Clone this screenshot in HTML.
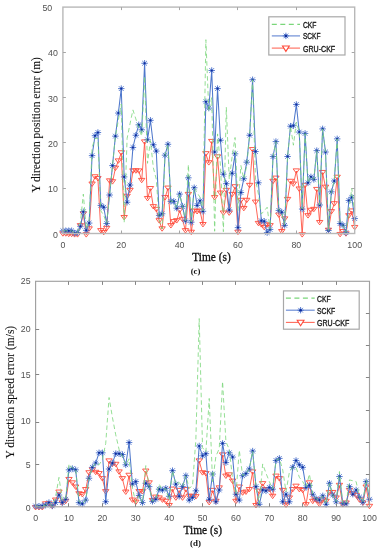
<!DOCTYPE html><html><head><meta charset="utf-8"><title>Y direction error plots</title><style>html,body{margin:0;padding:0;background:#fff}svg{display:block}</style></head><body>
<svg width="381" height="550" viewBox="0 0 381 550">
<rect width="381" height="550" fill="#fff"/>
<filter id="soft" x="0" y="0" width="100%" height="100%" filterUnits="userSpaceOnUse"><feGaussianBlur stdDeviation="0.3"/></filter><g filter="url(#soft)">
<clipPath id="c1"><rect x="58.9" y="7.1" width="299.8" height="231.4"/></clipPath>
<g clip-path="url(#c1)">
<polyline fill="none" stroke="#ff4a3a" stroke-width="0.85" points="62.9,233.99 65.82,233.99 68.74,234.45 71.65,234.45 74.57,234.9 77.49,234.9 80.41,225.84 83.33,214.07 86.24,234.9 89.16,229.01 92.08,184.19 95,176.94 97.92,178.75 100.83,230.82 103.75,232.64 106.67,228.56 109.59,181.02 112.51,181.92 115.42,168.34 118.34,161.09 121.26,152.94 124.18,217.69 127.1,196.41 130.01,190.53 132.93,171.06 135.85,171.06 138.77,171.06 141.69,180.56 144.6,142.08 147.52,198.68 150.44,188.71 153.36,206.83 156.28,209.54 159.19,220.86 162.11,229.01 165.03,197.77 167.95,188.26 170.87,225.84 173.78,221.77 176.7,220.86 179.62,210.45 182.54,219.5 185.46,230.82 188.37,194.6 191.29,232.41 194.21,211.13 197.13,211.81 200.05,211.13 202.96,224.71 205.88,153.85 208.8,162.9 211.72,141.62 214.64,197.77 217.55,157.02 220.47,193.24 223.39,213.17 226.31,190.53 229.23,213.17 232.14,194.6 235.06,186.9 237.98,232.41 240.9,200.49 243.82,208.64 246.73,200.49 249.65,185.54 252.57,149.77 255.49,202.3 258.41,223.58 261.32,224.94 264.24,227.66 267.16,224.94 270.08,225.84 273,181.47 275.91,178.3 278.83,215.2 281.75,231.73 284.67,219.05 287.59,199.58 290.5,181.47 293.42,184.19 296.34,171.06 299.26,189.17 302.18,234.9 305.09,185.54 308.01,215.88 310.93,210.45 313.85,209.54 316.77,189.62 319.68,222.67 322.6,172.64 325.52,187.36 328.44,230.37 331.36,211.81 334.27,203.88 337.19,177.39 340.11,234.67 343.03,231.73 345.95,233.99 348.86,215.88 351.78,211.13 354.7,227.66"/>
<path fill="none" stroke="#ff4a3a" stroke-width="0.9" d="M59.7 231.79h6.4l-3.2 4.4zM62.62 231.79h6.4l-3.2 4.4zM65.54 232.25h6.4l-3.2 4.4zM68.45 232.25h6.4l-3.2 4.4zM71.37 232.7h6.4l-3.2 4.4zM74.29 232.7h6.4l-3.2 4.4zM77.21 223.64h6.4l-3.2 4.4zM80.13 211.87h6.4l-3.2 4.4zM83.04 232.7h6.4l-3.2 4.4zM85.96 226.81h6.4l-3.2 4.4zM88.88 181.99h6.4l-3.2 4.4zM91.8 174.74h6.4l-3.2 4.4zM94.72 176.55h6.4l-3.2 4.4zM97.63 228.62h6.4l-3.2 4.4zM100.55 230.44h6.4l-3.2 4.4zM103.47 226.36h6.4l-3.2 4.4zM106.39 178.82h6.4l-3.2 4.4zM109.31 179.72h6.4l-3.2 4.4zM112.22 166.14h6.4l-3.2 4.4zM115.14 158.89h6.4l-3.2 4.4zM118.06 150.74h6.4l-3.2 4.4zM120.98 215.49h6.4l-3.2 4.4zM123.9 194.21h6.4l-3.2 4.4zM126.81 188.33h6.4l-3.2 4.4zM129.73 168.86h6.4l-3.2 4.4zM132.65 168.86h6.4l-3.2 4.4zM135.57 168.86h6.4l-3.2 4.4zM138.49 178.36h6.4l-3.2 4.4zM141.4 139.88h6.4l-3.2 4.4zM144.32 196.48h6.4l-3.2 4.4zM147.24 186.51h6.4l-3.2 4.4zM150.16 204.63h6.4l-3.2 4.4zM153.08 207.34h6.4l-3.2 4.4zM155.99 218.66h6.4l-3.2 4.4zM158.91 226.81h6.4l-3.2 4.4zM161.83 195.57h6.4l-3.2 4.4zM164.75 186.06h6.4l-3.2 4.4zM167.67 223.64h6.4l-3.2 4.4zM170.58 219.57h6.4l-3.2 4.4zM173.5 218.66h6.4l-3.2 4.4zM176.42 208.25h6.4l-3.2 4.4zM179.34 217.3h6.4l-3.2 4.4zM182.26 228.62h6.4l-3.2 4.4zM185.17 192.4h6.4l-3.2 4.4zM188.09 230.21h6.4l-3.2 4.4zM191.01 208.93h6.4l-3.2 4.4zM193.93 209.61h6.4l-3.2 4.4zM196.85 208.93h6.4l-3.2 4.4zM199.76 222.51h6.4l-3.2 4.4zM202.68 151.65h6.4l-3.2 4.4zM205.6 160.7h6.4l-3.2 4.4zM208.52 139.42h6.4l-3.2 4.4zM211.44 195.57h6.4l-3.2 4.4zM214.35 154.82h6.4l-3.2 4.4zM217.27 191.04h6.4l-3.2 4.4zM220.19 210.97h6.4l-3.2 4.4zM223.11 188.33h6.4l-3.2 4.4zM226.03 210.97h6.4l-3.2 4.4zM228.94 192.4h6.4l-3.2 4.4zM231.86 184.7h6.4l-3.2 4.4zM234.78 230.21h6.4l-3.2 4.4zM237.7 198.29h6.4l-3.2 4.4zM240.62 206.44h6.4l-3.2 4.4zM243.53 198.29h6.4l-3.2 4.4zM246.45 183.34h6.4l-3.2 4.4zM249.37 147.57h6.4l-3.2 4.4zM252.29 200.1h6.4l-3.2 4.4zM255.21 221.38h6.4l-3.2 4.4zM258.12 222.74h6.4l-3.2 4.4zM261.04 225.46h6.4l-3.2 4.4zM263.96 222.74h6.4l-3.2 4.4zM266.88 223.64h6.4l-3.2 4.4zM269.8 179.27h6.4l-3.2 4.4zM272.71 176.1h6.4l-3.2 4.4zM275.63 213h6.4l-3.2 4.4zM278.55 229.53h6.4l-3.2 4.4zM281.47 216.85h6.4l-3.2 4.4zM284.39 197.38h6.4l-3.2 4.4zM287.3 179.27h6.4l-3.2 4.4zM290.22 181.99h6.4l-3.2 4.4zM293.14 168.86h6.4l-3.2 4.4zM296.06 186.97h6.4l-3.2 4.4zM298.98 232.7h6.4l-3.2 4.4zM301.89 183.34h6.4l-3.2 4.4zM304.81 213.68h6.4l-3.2 4.4zM307.73 208.25h6.4l-3.2 4.4zM310.65 207.34h6.4l-3.2 4.4zM313.57 187.42h6.4l-3.2 4.4zM316.48 220.47h6.4l-3.2 4.4zM319.4 170.44h6.4l-3.2 4.4zM322.32 185.16h6.4l-3.2 4.4zM325.24 228.17h6.4l-3.2 4.4zM328.16 209.61h6.4l-3.2 4.4zM331.07 201.68h6.4l-3.2 4.4zM333.99 175.19h6.4l-3.2 4.4zM336.91 232.47h6.4l-3.2 4.4zM339.83 229.53h6.4l-3.2 4.4zM342.75 231.79h6.4l-3.2 4.4zM345.66 213.68h6.4l-3.2 4.4zM348.58 208.93h6.4l-3.2 4.4zM351.5 225.46h6.4l-3.2 4.4z"/>
<polyline fill="none" stroke="#4f78cc" stroke-width="1.05" points="62.9,230.78 65.82,230.78 68.74,230.78 71.65,230.78 74.57,233.05 77.49,232.59 80.41,226.26 83.33,211.77 86.24,230.33 89.16,223.09 92.08,155.62 95,135.7 97.92,132.53 100.83,205.43 103.75,207.24 106.67,223.54 109.59,195.01 112.51,165.58 115.42,136.15 118.34,113.06 121.26,88.6 124.18,176.9 127.1,202.26 130.01,185.05 132.93,147.47 135.85,135.24 138.77,124.83 141.69,129.81 144.6,63.25 147.52,139.77 150.44,120.3 153.36,144.75 156.28,151.09 159.19,215.39 162.11,213.8 165.03,155.17 167.95,144.3 170.87,201.35 173.78,201.35 176.7,208.14 179.62,194.11 182.54,206.33 185.46,220.82 188.37,177.81 191.29,222.18 194.21,187.77 197.13,205.43 200.05,200.9 202.96,211.31 205.88,101.74 208.8,108.07 211.72,70.49 214.64,152 217.55,88.6 220.47,140.22 223.39,174.18 226.31,183.69 229.23,209.95 232.14,173.28 235.06,153.81 237.98,227.61 240.9,192.52 243.82,178.71 246.73,162.18 249.65,135.24 252.57,79.77 255.49,151.54 258.41,182.79 261.32,220.82 264.24,221.27 267.16,232.59 270.08,229.42 273,156.52 275.91,141.58 278.83,210.41 281.75,212.22 284.67,225.35 287.59,156.52 290.5,126.19 293.42,125.73 296.34,104.45 299.26,132.07 302.18,209.05 305.09,133.43 308.01,182.79 310.93,176.9 313.85,179.39 316.77,150.64 319.68,204.97 322.6,128.9 325.52,152 328.44,230.56 331.36,191.84 334.27,180.98 337.19,138.86 340.11,223.54 343.03,225.35 345.95,232.59 348.86,200.45 351.78,197.28 354.7,218.56"/>
<path fill="none" stroke="#4a70cc" stroke-width="0.9" d="M59.65 230.78h6.5M62.9 227.53v6.5M60.56 228.44l4.68 4.68M60.56 233.12l4.68 -4.68M62.57 230.78h6.5M65.82 227.53v6.5M63.48 228.44l4.68 4.68M63.48 233.12l4.68 -4.68M65.49 230.78h6.5M68.74 227.53v6.5M66.4 228.44l4.68 4.68M66.4 233.12l4.68 -4.68M68.4 230.78h6.5M71.65 227.53v6.5M69.31 228.44l4.68 4.68M69.31 233.12l4.68 -4.68M71.32 233.05h6.5M74.57 229.8v6.5M72.23 230.71l4.68 4.68M72.23 235.39l4.68 -4.68M74.24 232.59h6.5M77.49 229.34v6.5M75.15 230.25l4.68 4.68M75.15 234.93l4.68 -4.68M77.16 226.26h6.5M80.41 223.01v6.5M78.07 223.92l4.68 4.68M78.07 228.6l4.68 -4.68M80.08 211.77h6.5M83.33 208.52v6.5M80.99 209.43l4.68 4.68M80.99 214.11l4.68 -4.68M82.99 230.33h6.5M86.24 227.08v6.5M83.9 227.99l4.68 4.68M83.9 232.67l4.68 -4.68M85.91 223.09h6.5M89.16 219.84v6.5M86.82 220.75l4.68 4.68M86.82 225.43l4.68 -4.68M88.83 155.62h6.5M92.08 152.37v6.5M89.74 153.28l4.68 4.68M89.74 157.96l4.68 -4.68M91.75 135.7h6.5M95 132.45v6.5M92.66 133.36l4.68 4.68M92.66 138.04l4.68 -4.68M94.67 132.53h6.5M97.92 129.28v6.5M95.58 130.19l4.68 4.68M95.58 134.87l4.68 -4.68M97.58 205.43h6.5M100.83 202.18v6.5M98.49 203.09l4.68 4.68M98.49 207.77l4.68 -4.68M100.5 207.24h6.5M103.75 203.99v6.5M101.41 204.9l4.68 4.68M101.41 209.58l4.68 -4.68M103.42 223.54h6.5M106.67 220.29v6.5M104.33 221.2l4.68 4.68M104.33 225.88l4.68 -4.68M106.34 195.01h6.5M109.59 191.76v6.5M107.25 192.67l4.68 4.68M107.25 197.35l4.68 -4.68M109.26 165.58h6.5M112.51 162.33v6.5M110.17 163.24l4.68 4.68M110.17 167.92l4.68 -4.68M112.17 136.15h6.5M115.42 132.9v6.5M113.08 133.81l4.68 4.68M113.08 138.49l4.68 -4.68M115.09 113.06h6.5M118.34 109.81v6.5M116 110.72l4.68 4.68M116 115.4l4.68 -4.68M118.01 88.6h6.5M121.26 85.35v6.5M118.92 86.26l4.68 4.68M118.92 90.94l4.68 -4.68M120.93 176.9h6.5M124.18 173.65v6.5M121.84 174.56l4.68 4.68M121.84 179.24l4.68 -4.68M123.85 202.26h6.5M127.1 199.01v6.5M124.76 199.92l4.68 4.68M124.76 204.6l4.68 -4.68M126.76 185.05h6.5M130.01 181.8v6.5M127.67 182.71l4.68 4.68M127.67 187.39l4.68 -4.68M129.68 147.47h6.5M132.93 144.22v6.5M130.59 145.13l4.68 4.68M130.59 149.81l4.68 -4.68M132.6 135.24h6.5M135.85 131.99v6.5M133.51 132.9l4.68 4.68M133.51 137.58l4.68 -4.68M135.52 124.83h6.5M138.77 121.58v6.5M136.43 122.49l4.68 4.68M136.43 127.17l4.68 -4.68M138.44 129.81h6.5M141.69 126.56v6.5M139.35 127.47l4.68 4.68M139.35 132.15l4.68 -4.68M141.35 63.25h6.5M144.6 60v6.5M142.26 60.91l4.68 4.68M142.26 65.59l4.68 -4.68M144.27 139.77h6.5M147.52 136.52v6.5M145.18 137.43l4.68 4.68M145.18 142.11l4.68 -4.68M147.19 120.3h6.5M150.44 117.05v6.5M148.1 117.96l4.68 4.68M148.1 122.64l4.68 -4.68M150.11 144.75h6.5M153.36 141.5v6.5M151.02 142.41l4.68 4.68M151.02 147.09l4.68 -4.68M153.03 151.09h6.5M156.28 147.84v6.5M153.94 148.75l4.68 4.68M153.94 153.43l4.68 -4.68M155.94 215.39h6.5M159.19 212.14v6.5M156.85 213.05l4.68 4.68M156.85 217.73l4.68 -4.68M158.86 213.8h6.5M162.11 210.55v6.5M159.77 211.46l4.68 4.68M159.77 216.14l4.68 -4.68M161.78 155.17h6.5M165.03 151.92v6.5M162.69 152.83l4.68 4.68M162.69 157.51l4.68 -4.68M164.7 144.3h6.5M167.95 141.05v6.5M165.61 141.96l4.68 4.68M165.61 146.64l4.68 -4.68M167.62 201.35h6.5M170.87 198.1v6.5M168.53 199.01l4.68 4.68M168.53 203.69l4.68 -4.68M170.53 201.35h6.5M173.78 198.1v6.5M171.44 199.01l4.68 4.68M171.44 203.69l4.68 -4.68M173.45 208.14h6.5M176.7 204.89v6.5M174.36 205.8l4.68 4.68M174.36 210.48l4.68 -4.68M176.37 194.11h6.5M179.62 190.86v6.5M177.28 191.77l4.68 4.68M177.28 196.45l4.68 -4.68M179.29 206.33h6.5M182.54 203.08v6.5M180.2 203.99l4.68 4.68M180.2 208.67l4.68 -4.68M182.21 220.82h6.5M185.46 217.57v6.5M183.12 218.48l4.68 4.68M183.12 223.16l4.68 -4.68M185.12 177.81h6.5M188.37 174.56v6.5M186.03 175.47l4.68 4.68M186.03 180.15l4.68 -4.68M188.04 222.18h6.5M191.29 218.93v6.5M188.95 219.84l4.68 4.68M188.95 224.52l4.68 -4.68M190.96 187.77h6.5M194.21 184.52v6.5M191.87 185.43l4.68 4.68M191.87 190.11l4.68 -4.68M193.88 205.43h6.5M197.13 202.18v6.5M194.79 203.09l4.68 4.68M194.79 207.77l4.68 -4.68M196.8 200.9h6.5M200.05 197.65v6.5M197.71 198.56l4.68 4.68M197.71 203.24l4.68 -4.68M199.71 211.31h6.5M202.96 208.06v6.5M200.62 208.97l4.68 4.68M200.62 213.65l4.68 -4.68M202.63 101.74h6.5M205.88 98.49v6.5M203.54 99.4l4.68 4.68M203.54 104.08l4.68 -4.68M205.55 108.07h6.5M208.8 104.82v6.5M206.46 105.73l4.68 4.68M206.46 110.41l4.68 -4.68M208.47 70.49h6.5M211.72 67.24v6.5M209.38 68.15l4.68 4.68M209.38 72.83l4.68 -4.68M211.39 152h6.5M214.64 148.75v6.5M212.3 149.66l4.68 4.68M212.3 154.34l4.68 -4.68M214.3 88.6h6.5M217.55 85.35v6.5M215.21 86.26l4.68 4.68M215.21 90.94l4.68 -4.68M217.22 140.22h6.5M220.47 136.97v6.5M218.13 137.88l4.68 4.68M218.13 142.56l4.68 -4.68M220.14 174.18h6.5M223.39 170.93v6.5M221.05 171.84l4.68 4.68M221.05 176.52l4.68 -4.68M223.06 183.69h6.5M226.31 180.44v6.5M223.97 181.35l4.68 4.68M223.97 186.03l4.68 -4.68M225.98 209.95h6.5M229.23 206.7v6.5M226.89 207.61l4.68 4.68M226.89 212.29l4.68 -4.68M228.89 173.28h6.5M232.14 170.03v6.5M229.8 170.94l4.68 4.68M229.8 175.62l4.68 -4.68M231.81 153.81h6.5M235.06 150.56v6.5M232.72 151.47l4.68 4.68M232.72 156.15l4.68 -4.68M234.73 227.61h6.5M237.98 224.36v6.5M235.64 225.27l4.68 4.68M235.64 229.95l4.68 -4.68M237.65 192.52h6.5M240.9 189.27v6.5M238.56 190.18l4.68 4.68M238.56 194.86l4.68 -4.68M240.57 178.71h6.5M243.82 175.46v6.5M241.48 176.37l4.68 4.68M241.48 181.05l4.68 -4.68M243.48 162.18h6.5M246.73 158.93v6.5M244.39 159.84l4.68 4.68M244.39 164.52l4.68 -4.68M246.4 135.24h6.5M249.65 131.99v6.5M247.31 132.9l4.68 4.68M247.31 137.58l4.68 -4.68M249.32 79.77h6.5M252.57 76.52v6.5M250.23 77.43l4.68 4.68M250.23 82.11l4.68 -4.68M252.24 151.54h6.5M255.49 148.29v6.5M253.15 149.2l4.68 4.68M253.15 153.88l4.68 -4.68M255.16 182.79h6.5M258.41 179.54v6.5M256.07 180.45l4.68 4.68M256.07 185.13l4.68 -4.68M258.07 220.82h6.5M261.32 217.57v6.5M258.98 218.48l4.68 4.68M258.98 223.16l4.68 -4.68M260.99 221.27h6.5M264.24 218.02v6.5M261.9 218.93l4.68 4.68M261.9 223.61l4.68 -4.68M263.91 232.59h6.5M267.16 229.34v6.5M264.82 230.25l4.68 4.68M264.82 234.93l4.68 -4.68M266.83 229.42h6.5M270.08 226.17v6.5M267.74 227.08l4.68 4.68M267.74 231.76l4.68 -4.68M269.75 156.52h6.5M273 153.27v6.5M270.66 154.18l4.68 4.68M270.66 158.86l4.68 -4.68M272.66 141.58h6.5M275.91 138.33v6.5M273.57 139.24l4.68 4.68M273.57 143.92l4.68 -4.68M275.58 210.41h6.5M278.83 207.16v6.5M276.49 208.07l4.68 4.68M276.49 212.75l4.68 -4.68M278.5 212.22h6.5M281.75 208.97v6.5M279.41 209.88l4.68 4.68M279.41 214.56l4.68 -4.68M281.42 225.35h6.5M284.67 222.1v6.5M282.33 223.01l4.68 4.68M282.33 227.69l4.68 -4.68M284.34 156.52h6.5M287.59 153.27v6.5M285.25 154.18l4.68 4.68M285.25 158.86l4.68 -4.68M287.25 126.19h6.5M290.5 122.94v6.5M288.16 123.85l4.68 4.68M288.16 128.53l4.68 -4.68M290.17 125.73h6.5M293.42 122.48v6.5M291.08 123.39l4.68 4.68M291.08 128.07l4.68 -4.68M293.09 104.45h6.5M296.34 101.2v6.5M294 102.11l4.68 4.68M294 106.79l4.68 -4.68M296.01 132.07h6.5M299.26 128.82v6.5M296.92 129.73l4.68 4.68M296.92 134.41l4.68 -4.68M298.93 209.05h6.5M302.18 205.8v6.5M299.84 206.71l4.68 4.68M299.84 211.39l4.68 -4.68M301.84 133.43h6.5M305.09 130.18v6.5M302.75 131.09l4.68 4.68M302.75 135.77l4.68 -4.68M304.76 182.79h6.5M308.01 179.54v6.5M305.67 180.45l4.68 4.68M305.67 185.13l4.68 -4.68M307.68 176.9h6.5M310.93 173.65v6.5M308.59 174.56l4.68 4.68M308.59 179.24l4.68 -4.68M310.6 179.39h6.5M313.85 176.14v6.5M311.51 177.05l4.68 4.68M311.51 181.73l4.68 -4.68M313.52 150.64h6.5M316.77 147.39v6.5M314.43 148.3l4.68 4.68M314.43 152.98l4.68 -4.68M316.43 204.97h6.5M319.68 201.72v6.5M317.34 202.63l4.68 4.68M317.34 207.31l4.68 -4.68M319.35 128.9h6.5M322.6 125.65v6.5M320.26 126.56l4.68 4.68M320.26 131.24l4.68 -4.68M322.27 152h6.5M325.52 148.75v6.5M323.18 149.66l4.68 4.68M323.18 154.34l4.68 -4.68M325.19 230.56h6.5M328.44 227.31v6.5M326.1 228.22l4.68 4.68M326.1 232.9l4.68 -4.68M328.11 191.84h6.5M331.36 188.59v6.5M329.02 189.5l4.68 4.68M329.02 194.18l4.68 -4.68M331.02 180.98h6.5M334.27 177.73v6.5M331.93 178.64l4.68 4.68M331.93 183.32l4.68 -4.68M333.94 138.86h6.5M337.19 135.61v6.5M334.85 136.52l4.68 4.68M334.85 141.2l4.68 -4.68M336.86 223.54h6.5M340.11 220.29v6.5M337.77 221.2l4.68 4.68M337.77 225.88l4.68 -4.68M339.78 225.35h6.5M343.03 222.1v6.5M340.69 223.01l4.68 4.68M340.69 227.69l4.68 -4.68M342.7 232.59h6.5M345.95 229.34v6.5M343.61 230.25l4.68 4.68M343.61 234.93l4.68 -4.68M345.61 200.45h6.5M348.86 197.2v6.5M346.52 198.11l4.68 4.68M346.52 202.79l4.68 -4.68M348.53 197.28h6.5M351.78 194.03v6.5M349.44 194.94l4.68 4.68M349.44 199.62l4.68 -4.68M351.45 218.56h6.5M354.7 215.31v6.5M352.36 216.22l4.68 4.68M352.36 220.9l4.68 -4.68"/>
<path fill="#0c2c9c" d="M61.85 230.78a1.05 1.05 0 1 0 2.1 0a1.05 1.05 0 1 0 -2.1 0M64.77 230.78a1.05 1.05 0 1 0 2.1 0a1.05 1.05 0 1 0 -2.1 0M67.69 230.78a1.05 1.05 0 1 0 2.1 0a1.05 1.05 0 1 0 -2.1 0M70.6 230.78a1.05 1.05 0 1 0 2.1 0a1.05 1.05 0 1 0 -2.1 0M73.52 233.05a1.05 1.05 0 1 0 2.1 0a1.05 1.05 0 1 0 -2.1 0M76.44 232.59a1.05 1.05 0 1 0 2.1 0a1.05 1.05 0 1 0 -2.1 0M79.36 226.26a1.05 1.05 0 1 0 2.1 0a1.05 1.05 0 1 0 -2.1 0M82.28 211.77a1.05 1.05 0 1 0 2.1 0a1.05 1.05 0 1 0 -2.1 0M85.19 230.33a1.05 1.05 0 1 0 2.1 0a1.05 1.05 0 1 0 -2.1 0M88.11 223.09a1.05 1.05 0 1 0 2.1 0a1.05 1.05 0 1 0 -2.1 0M91.03 155.62a1.05 1.05 0 1 0 2.1 0a1.05 1.05 0 1 0 -2.1 0M93.95 135.7a1.05 1.05 0 1 0 2.1 0a1.05 1.05 0 1 0 -2.1 0M96.87 132.53a1.05 1.05 0 1 0 2.1 0a1.05 1.05 0 1 0 -2.1 0M99.78 205.43a1.05 1.05 0 1 0 2.1 0a1.05 1.05 0 1 0 -2.1 0M102.7 207.24a1.05 1.05 0 1 0 2.1 0a1.05 1.05 0 1 0 -2.1 0M105.62 223.54a1.05 1.05 0 1 0 2.1 0a1.05 1.05 0 1 0 -2.1 0M108.54 195.01a1.05 1.05 0 1 0 2.1 0a1.05 1.05 0 1 0 -2.1 0M111.46 165.58a1.05 1.05 0 1 0 2.1 0a1.05 1.05 0 1 0 -2.1 0M114.37 136.15a1.05 1.05 0 1 0 2.1 0a1.05 1.05 0 1 0 -2.1 0M117.29 113.06a1.05 1.05 0 1 0 2.1 0a1.05 1.05 0 1 0 -2.1 0M120.21 88.6a1.05 1.05 0 1 0 2.1 0a1.05 1.05 0 1 0 -2.1 0M123.13 176.9a1.05 1.05 0 1 0 2.1 0a1.05 1.05 0 1 0 -2.1 0M126.05 202.26a1.05 1.05 0 1 0 2.1 0a1.05 1.05 0 1 0 -2.1 0M128.96 185.05a1.05 1.05 0 1 0 2.1 0a1.05 1.05 0 1 0 -2.1 0M131.88 147.47a1.05 1.05 0 1 0 2.1 0a1.05 1.05 0 1 0 -2.1 0M134.8 135.24a1.05 1.05 0 1 0 2.1 0a1.05 1.05 0 1 0 -2.1 0M137.72 124.83a1.05 1.05 0 1 0 2.1 0a1.05 1.05 0 1 0 -2.1 0M140.64 129.81a1.05 1.05 0 1 0 2.1 0a1.05 1.05 0 1 0 -2.1 0M143.55 63.25a1.05 1.05 0 1 0 2.1 0a1.05 1.05 0 1 0 -2.1 0M146.47 139.77a1.05 1.05 0 1 0 2.1 0a1.05 1.05 0 1 0 -2.1 0M149.39 120.3a1.05 1.05 0 1 0 2.1 0a1.05 1.05 0 1 0 -2.1 0M152.31 144.75a1.05 1.05 0 1 0 2.1 0a1.05 1.05 0 1 0 -2.1 0M155.23 151.09a1.05 1.05 0 1 0 2.1 0a1.05 1.05 0 1 0 -2.1 0M158.14 215.39a1.05 1.05 0 1 0 2.1 0a1.05 1.05 0 1 0 -2.1 0M161.06 213.8a1.05 1.05 0 1 0 2.1 0a1.05 1.05 0 1 0 -2.1 0M163.98 155.17a1.05 1.05 0 1 0 2.1 0a1.05 1.05 0 1 0 -2.1 0M166.9 144.3a1.05 1.05 0 1 0 2.1 0a1.05 1.05 0 1 0 -2.1 0M169.82 201.35a1.05 1.05 0 1 0 2.1 0a1.05 1.05 0 1 0 -2.1 0M172.73 201.35a1.05 1.05 0 1 0 2.1 0a1.05 1.05 0 1 0 -2.1 0M175.65 208.14a1.05 1.05 0 1 0 2.1 0a1.05 1.05 0 1 0 -2.1 0M178.57 194.11a1.05 1.05 0 1 0 2.1 0a1.05 1.05 0 1 0 -2.1 0M181.49 206.33a1.05 1.05 0 1 0 2.1 0a1.05 1.05 0 1 0 -2.1 0M184.41 220.82a1.05 1.05 0 1 0 2.1 0a1.05 1.05 0 1 0 -2.1 0M187.32 177.81a1.05 1.05 0 1 0 2.1 0a1.05 1.05 0 1 0 -2.1 0M190.24 222.18a1.05 1.05 0 1 0 2.1 0a1.05 1.05 0 1 0 -2.1 0M193.16 187.77a1.05 1.05 0 1 0 2.1 0a1.05 1.05 0 1 0 -2.1 0M196.08 205.43a1.05 1.05 0 1 0 2.1 0a1.05 1.05 0 1 0 -2.1 0M199 200.9a1.05 1.05 0 1 0 2.1 0a1.05 1.05 0 1 0 -2.1 0M201.91 211.31a1.05 1.05 0 1 0 2.1 0a1.05 1.05 0 1 0 -2.1 0M204.83 101.74a1.05 1.05 0 1 0 2.1 0a1.05 1.05 0 1 0 -2.1 0M207.75 108.07a1.05 1.05 0 1 0 2.1 0a1.05 1.05 0 1 0 -2.1 0M210.67 70.49a1.05 1.05 0 1 0 2.1 0a1.05 1.05 0 1 0 -2.1 0M213.59 152a1.05 1.05 0 1 0 2.1 0a1.05 1.05 0 1 0 -2.1 0M216.5 88.6a1.05 1.05 0 1 0 2.1 0a1.05 1.05 0 1 0 -2.1 0M219.42 140.22a1.05 1.05 0 1 0 2.1 0a1.05 1.05 0 1 0 -2.1 0M222.34 174.18a1.05 1.05 0 1 0 2.1 0a1.05 1.05 0 1 0 -2.1 0M225.26 183.69a1.05 1.05 0 1 0 2.1 0a1.05 1.05 0 1 0 -2.1 0M228.18 209.95a1.05 1.05 0 1 0 2.1 0a1.05 1.05 0 1 0 -2.1 0M231.09 173.28a1.05 1.05 0 1 0 2.1 0a1.05 1.05 0 1 0 -2.1 0M234.01 153.81a1.05 1.05 0 1 0 2.1 0a1.05 1.05 0 1 0 -2.1 0M236.93 227.61a1.05 1.05 0 1 0 2.1 0a1.05 1.05 0 1 0 -2.1 0M239.85 192.52a1.05 1.05 0 1 0 2.1 0a1.05 1.05 0 1 0 -2.1 0M242.77 178.71a1.05 1.05 0 1 0 2.1 0a1.05 1.05 0 1 0 -2.1 0M245.68 162.18a1.05 1.05 0 1 0 2.1 0a1.05 1.05 0 1 0 -2.1 0M248.6 135.24a1.05 1.05 0 1 0 2.1 0a1.05 1.05 0 1 0 -2.1 0M251.52 79.77a1.05 1.05 0 1 0 2.1 0a1.05 1.05 0 1 0 -2.1 0M254.44 151.54a1.05 1.05 0 1 0 2.1 0a1.05 1.05 0 1 0 -2.1 0M257.36 182.79a1.05 1.05 0 1 0 2.1 0a1.05 1.05 0 1 0 -2.1 0M260.27 220.82a1.05 1.05 0 1 0 2.1 0a1.05 1.05 0 1 0 -2.1 0M263.19 221.27a1.05 1.05 0 1 0 2.1 0a1.05 1.05 0 1 0 -2.1 0M266.11 232.59a1.05 1.05 0 1 0 2.1 0a1.05 1.05 0 1 0 -2.1 0M269.03 229.42a1.05 1.05 0 1 0 2.1 0a1.05 1.05 0 1 0 -2.1 0M271.95 156.52a1.05 1.05 0 1 0 2.1 0a1.05 1.05 0 1 0 -2.1 0M274.86 141.58a1.05 1.05 0 1 0 2.1 0a1.05 1.05 0 1 0 -2.1 0M277.78 210.41a1.05 1.05 0 1 0 2.1 0a1.05 1.05 0 1 0 -2.1 0M280.7 212.22a1.05 1.05 0 1 0 2.1 0a1.05 1.05 0 1 0 -2.1 0M283.62 225.35a1.05 1.05 0 1 0 2.1 0a1.05 1.05 0 1 0 -2.1 0M286.54 156.52a1.05 1.05 0 1 0 2.1 0a1.05 1.05 0 1 0 -2.1 0M289.45 126.19a1.05 1.05 0 1 0 2.1 0a1.05 1.05 0 1 0 -2.1 0M292.37 125.73a1.05 1.05 0 1 0 2.1 0a1.05 1.05 0 1 0 -2.1 0M295.29 104.45a1.05 1.05 0 1 0 2.1 0a1.05 1.05 0 1 0 -2.1 0M298.21 132.07a1.05 1.05 0 1 0 2.1 0a1.05 1.05 0 1 0 -2.1 0M301.13 209.05a1.05 1.05 0 1 0 2.1 0a1.05 1.05 0 1 0 -2.1 0M304.04 133.43a1.05 1.05 0 1 0 2.1 0a1.05 1.05 0 1 0 -2.1 0M306.96 182.79a1.05 1.05 0 1 0 2.1 0a1.05 1.05 0 1 0 -2.1 0M309.88 176.9a1.05 1.05 0 1 0 2.1 0a1.05 1.05 0 1 0 -2.1 0M312.8 179.39a1.05 1.05 0 1 0 2.1 0a1.05 1.05 0 1 0 -2.1 0M315.72 150.64a1.05 1.05 0 1 0 2.1 0a1.05 1.05 0 1 0 -2.1 0M318.63 204.97a1.05 1.05 0 1 0 2.1 0a1.05 1.05 0 1 0 -2.1 0M321.55 128.9a1.05 1.05 0 1 0 2.1 0a1.05 1.05 0 1 0 -2.1 0M324.47 152a1.05 1.05 0 1 0 2.1 0a1.05 1.05 0 1 0 -2.1 0M327.39 230.56a1.05 1.05 0 1 0 2.1 0a1.05 1.05 0 1 0 -2.1 0M330.31 191.84a1.05 1.05 0 1 0 2.1 0a1.05 1.05 0 1 0 -2.1 0M333.22 180.98a1.05 1.05 0 1 0 2.1 0a1.05 1.05 0 1 0 -2.1 0M336.14 138.86a1.05 1.05 0 1 0 2.1 0a1.05 1.05 0 1 0 -2.1 0M339.06 223.54a1.05 1.05 0 1 0 2.1 0a1.05 1.05 0 1 0 -2.1 0M341.98 225.35a1.05 1.05 0 1 0 2.1 0a1.05 1.05 0 1 0 -2.1 0M344.9 232.59a1.05 1.05 0 1 0 2.1 0a1.05 1.05 0 1 0 -2.1 0M347.81 200.45a1.05 1.05 0 1 0 2.1 0a1.05 1.05 0 1 0 -2.1 0M350.73 197.28a1.05 1.05 0 1 0 2.1 0a1.05 1.05 0 1 0 -2.1 0M353.65 218.56a1.05 1.05 0 1 0 2.1 0a1.05 1.05 0 1 0 -2.1 0"/>
<polyline fill="none" stroke="#7ad67a" stroke-width="0.9" stroke-opacity="0.9" stroke-dasharray="4.5 3" points="62.9,230.78 65.82,230.78 68.74,230.78 71.65,230.78 74.57,233.05 77.49,232.59 80.41,222.18 83.33,194.11 86.24,228.97 89.16,219.92 92.08,147.47 95,138.41 97.92,138.41 100.83,210.86 103.75,215.39 106.67,223.54 109.59,195.01 112.51,165.58 115.42,136.15 118.34,120.3 121.26,104 124.18,222.63 127.1,138.41 130.01,123.92 132.93,109.89 135.85,118.94 138.77,128 141.69,136.15 144.6,76.38 147.52,163.32 150.44,140.68 153.36,167.84 156.28,179.16 159.19,219.92 162.11,228.97 165.03,155.17 167.95,144.3 170.87,201.35 173.78,201.35 176.7,208.14 179.62,194.11 182.54,206.33 185.46,220.82 188.37,164.67 191.29,222.18 194.21,187.77 197.13,192.75 200.05,197.28 202.96,210.86 205.88,39.7 208.8,111.24 211.72,97.66 214.64,231.24 217.55,133.88 220.47,165.58 223.39,231.69 226.31,107.17 229.23,179.16 232.14,156.52 235.06,137.51 237.98,210.86 240.9,165.58 243.82,179.16 246.73,165.58 249.65,135.24 252.57,79.77 255.49,179.62 258.41,194.11 261.32,214.03 264.24,210.86 267.16,207.24 270.08,229.42 273,156.52 275.91,141.58 278.83,210.41 281.75,212.22 284.67,225.35 287.59,156.52 290.5,126.19 293.42,145.2 296.34,122.11 299.26,132.07 302.18,209.05 305.09,133.43 308.01,182.79 310.93,176.9 313.85,179.39 316.77,150.64 319.68,204.97 322.6,128.9 325.52,152 328.44,230.56 331.36,191.84 334.27,180.98 337.19,138.86 340.11,223.54 343.03,225.35 345.95,232.59 348.86,210.86 351.78,188.22 354.7,215.39"/>
</g>
<rect x="62.9" y="7.1" width="291.8" height="226.4" fill="none" stroke="#b8b8b8" stroke-width="1.4"/>
<path d="M121.5 233.5v-3.0M121.5 7.1v3.0M179.5 233.5v-3.0M179.5 7.1v3.0M237.5 233.5v-3.0M237.5 7.1v3.0M296.5 233.5v-3.0M296.5 7.1v3.0M62.9 188.5h3.0M354.7 188.5h-3.0M62.9 142.5h3.0M354.7 142.5h-3.0M62.9 97.5h3.0M354.7 97.5h-3.0M62.9 52.5h3.0M354.7 52.5h-3.0" stroke="#a6a6a6" stroke-width="1.0" fill="none"/>
<text x="57.9" y="237.6" font-family="'Liberation Sans', Arial, Helvetica, sans-serif" font-size="9.4" font-weight="normal" text-anchor="end" fill="#505050" textLength="4.9" lengthAdjust="spacingAndGlyphs">0</text>
<text x="57.9" y="192.32" font-family="'Liberation Sans', Arial, Helvetica, sans-serif" font-size="9.4" font-weight="normal" text-anchor="end" fill="#505050" textLength="9.8" lengthAdjust="spacingAndGlyphs">10</text>
<text x="57.9" y="147.04" font-family="'Liberation Sans', Arial, Helvetica, sans-serif" font-size="9.4" font-weight="normal" text-anchor="end" fill="#505050" textLength="9.8" lengthAdjust="spacingAndGlyphs">20</text>
<text x="57.9" y="101.76" font-family="'Liberation Sans', Arial, Helvetica, sans-serif" font-size="9.4" font-weight="normal" text-anchor="end" fill="#505050" textLength="9.8" lengthAdjust="spacingAndGlyphs">30</text>
<text x="57.9" y="56.48" font-family="'Liberation Sans', Arial, Helvetica, sans-serif" font-size="9.4" font-weight="normal" text-anchor="end" fill="#505050" textLength="9.8" lengthAdjust="spacingAndGlyphs">40</text>
<text x="52.2" y="11" font-family="'Liberation Sans', Arial, Helvetica, sans-serif" font-size="9.4" font-weight="normal" text-anchor="end" fill="#505050" textLength="9.8" lengthAdjust="spacingAndGlyphs">50</text>
<text x="62.9" y="247.8" font-family="'Liberation Sans', Arial, Helvetica, sans-serif" font-size="9.4" font-weight="normal" text-anchor="middle" fill="#505050" textLength="4.9" lengthAdjust="spacingAndGlyphs">0</text>
<text x="121.26" y="247.8" font-family="'Liberation Sans', Arial, Helvetica, sans-serif" font-size="9.4" font-weight="normal" text-anchor="middle" fill="#505050" textLength="9.8" lengthAdjust="spacingAndGlyphs">20</text>
<text x="179.62" y="247.8" font-family="'Liberation Sans', Arial, Helvetica, sans-serif" font-size="9.4" font-weight="normal" text-anchor="middle" fill="#505050" textLength="9.8" lengthAdjust="spacingAndGlyphs">40</text>
<text x="237.98" y="247.8" font-family="'Liberation Sans', Arial, Helvetica, sans-serif" font-size="9.4" font-weight="normal" text-anchor="middle" fill="#505050" textLength="9.8" lengthAdjust="spacingAndGlyphs">60</text>
<text x="296.34" y="247.8" font-family="'Liberation Sans', Arial, Helvetica, sans-serif" font-size="9.4" font-weight="normal" text-anchor="middle" fill="#505050" textLength="9.8" lengthAdjust="spacingAndGlyphs">80</text>
<text x="354.7" y="247.8" font-family="'Liberation Sans', Arial, Helvetica, sans-serif" font-size="9.4" font-weight="normal" text-anchor="middle" fill="#505050" textLength="14.7" lengthAdjust="spacingAndGlyphs">100</text>
<rect x="268.8" y="16.8" width="76.2" height="38.2" fill="#fff" stroke="#a8a8a8" stroke-width="1.2"/>
<line x1="271.8" y1="24.4" x2="300" y2="24.4" stroke="#7ad67a" stroke-width="1.1" stroke-dasharray="5 3.5"/>
<line x1="271.8" y1="35.9" x2="300" y2="35.9" stroke="#6f8fd6" stroke-width="1.2"/>
<path fill="none" stroke="#4a70cc" stroke-width="0.9" d="M282.7 35.9h6.4M285.9 32.7v6.4M283.6 33.6l4.61 4.61M283.6 38.2l4.61 -4.61"/>
<path fill="#0c2c9c" d="M284.6 35.9a1.3 1.3 0 1 0 2.6 0a1.3 1.3 0 1 0 -2.6 0"/>
<line x1="271.8" y1="48.1" x2="300" y2="48.1" stroke="#ff6a5a" stroke-width="1.1"/>
<path fill="#fff" stroke="#ff4a3a" stroke-width="1.1" d="M282.5 46h6.8l-3.4 5.4z"/>
<text x="302.9" y="27.8" font-family="'Liberation Sans', Arial, Helvetica, sans-serif" font-size="8.8" font-weight="normal" text-anchor="start" fill="#1a1a1a" textLength="13.5" lengthAdjust="spacingAndGlyphs" stroke="#1a1a1a" stroke-width="0.35">CKF</text>
<text x="302.9" y="39.3" font-family="'Liberation Sans', Arial, Helvetica, sans-serif" font-size="8.8" font-weight="normal" text-anchor="start" fill="#1a1a1a" textLength="17.6" lengthAdjust="spacingAndGlyphs" stroke="#1a1a1a" stroke-width="0.35">SCKF</text>
<text x="302.9" y="51.5" font-family="'Liberation Sans', Arial, Helvetica, sans-serif" font-size="8.8" font-weight="normal" text-anchor="start" fill="#1a1a1a" textLength="32.3" lengthAdjust="spacingAndGlyphs" stroke="#1a1a1a" stroke-width="0.35">GRU-CKF</text>
<text x="0" y="0" font-family="'Liberation Serif', 'Times New Roman', Times, serif" font-size="11.5" font-weight="normal" text-anchor="start" fill="#111" textLength="135.5" lengthAdjust="spacingAndGlyphs" stroke="#111" stroke-width="0.1" transform="translate(39.5,192.6) rotate(-90)">Y direction position error (m)</text>
<text x="192.3" y="260.7" font-family="'Liberation Serif', 'Times New Roman', Times, serif" font-size="11.5" font-weight="normal" text-anchor="start" fill="#111" textLength="38.4" lengthAdjust="spacingAndGlyphs" stroke="#111" stroke-width="0.3">Time (s)</text>
<text x="190.7" y="274.2" font-family="'Liberation Serif', 'Times New Roman', Times, serif" font-size="8.4" font-weight="bold" text-anchor="start" fill="#111" textLength="9.7" lengthAdjust="spacingAndGlyphs">(c)</text>
<clipPath id="c2"><rect x="31.6" y="281.3" width="341.9" height="230.5"/></clipPath>
<g clip-path="url(#c2)">
<polyline fill="none" stroke="#ff4a3a" stroke-width="0.85" points="35.6,507.78 38.94,507.78 42.28,507.78 45.62,504 48.96,504 52.3,506.52 55.63,500.22 58.97,492.24 62.31,503.16 65.65,501.48 68.99,479.64 72.33,483 75.67,487.2 79.01,493.92 82.35,494.76 85.69,489.72 89.02,472.92 92.36,469.98 95.7,472.5 99.04,473.76 102.38,478.8 105.72,491.82 109.06,461.06 112.4,464.49 115.74,464.49 119.07,472.08 122.41,478.8 125.75,492.24 129.09,475.44 132.43,500.22 135.77,502.32 139.11,491.82 142.45,491.82 145.79,471.24 149.13,483 152.47,500.64 155.8,497.28 159.14,498.12 162.48,500.22 165.82,501.48 169.16,505.68 172.5,489.3 175.84,498.12 179.18,490.56 182.52,498.12 185.85,489.72 189.19,496.44 192.53,496.44 195.87,496.86 199.21,461.06 202.55,472.92 205.89,473.76 209.23,502.74 212.57,490.56 215.91,501.48 219.25,488.04 222.58,455.07 225.92,476.28 229.26,475.02 232.6,481.32 235.94,501.48 239.28,487.2 242.62,493.08 245.96,492.24 249.3,489.72 252.63,472.08 255.97,505.68 259.31,491.4 262.65,483.84 265.99,489.72 269.33,489.72 272.67,496.44 276.01,476.28 279.35,478.8 282.69,490.56 286.03,505.18 289.36,498.12 292.7,489.72 296.04,486.36 299.38,489.72 302.72,490.56 306.06,504.84 309.4,483 312.74,501.48 316.08,500.05 319.41,504.42 322.75,500.05 326.09,501.48 329.43,492.66 332.77,492.66 336.11,498.12 339.45,485.52 342.79,504.84 346.13,503.16 349.47,490.56 352.81,493.92 356.14,495.6 359.48,500.05 362.82,503.16 366.16,487.2 369.5,506.52"/>
<path fill="none" stroke="#ff4a3a" stroke-width="0.9" d="M32.4 505.58h6.4l-3.2 4.4zM35.74 505.58h6.4l-3.2 4.4zM39.08 505.58h6.4l-3.2 4.4zM42.42 501.8h6.4l-3.2 4.4zM45.76 501.8h6.4l-3.2 4.4zM49.09 504.32h6.4l-3.2 4.4zM52.43 498.02h6.4l-3.2 4.4zM55.77 490.04h6.4l-3.2 4.4zM59.11 500.96h6.4l-3.2 4.4zM62.45 499.28h6.4l-3.2 4.4zM65.79 477.44h6.4l-3.2 4.4zM69.13 480.8h6.4l-3.2 4.4zM72.47 485h6.4l-3.2 4.4zM75.81 491.72h6.4l-3.2 4.4zM79.15 492.56h6.4l-3.2 4.4zM82.48 487.52h6.4l-3.2 4.4zM85.82 470.72h6.4l-3.2 4.4zM89.16 467.78h6.4l-3.2 4.4zM92.5 470.3h6.4l-3.2 4.4zM95.84 471.56h6.4l-3.2 4.4zM99.18 476.6h6.4l-3.2 4.4zM102.52 489.62h6.4l-3.2 4.4zM105.86 458.86h6.4l-3.2 4.4zM109.2 462.29h6.4l-3.2 4.4zM112.54 462.29h6.4l-3.2 4.4zM115.87 469.88h6.4l-3.2 4.4zM119.21 476.6h6.4l-3.2 4.4zM122.55 490.04h6.4l-3.2 4.4zM125.89 473.24h6.4l-3.2 4.4zM129.23 498.02h6.4l-3.2 4.4zM132.57 500.12h6.4l-3.2 4.4zM135.91 489.62h6.4l-3.2 4.4zM139.25 489.62h6.4l-3.2 4.4zM142.59 469.04h6.4l-3.2 4.4zM145.93 480.8h6.4l-3.2 4.4zM149.27 498.44h6.4l-3.2 4.4zM152.6 495.08h6.4l-3.2 4.4zM155.94 495.92h6.4l-3.2 4.4zM159.28 498.02h6.4l-3.2 4.4zM162.62 499.28h6.4l-3.2 4.4zM165.96 503.48h6.4l-3.2 4.4zM169.3 487.1h6.4l-3.2 4.4zM172.64 495.92h6.4l-3.2 4.4zM175.98 488.36h6.4l-3.2 4.4zM179.32 495.92h6.4l-3.2 4.4zM182.66 487.52h6.4l-3.2 4.4zM185.99 494.24h6.4l-3.2 4.4zM189.33 494.24h6.4l-3.2 4.4zM192.67 494.66h6.4l-3.2 4.4zM196.01 458.86h6.4l-3.2 4.4zM199.35 470.72h6.4l-3.2 4.4zM202.69 471.56h6.4l-3.2 4.4zM206.03 500.54h6.4l-3.2 4.4zM209.37 488.36h6.4l-3.2 4.4zM212.71 499.28h6.4l-3.2 4.4zM216.05 485.84h6.4l-3.2 4.4zM219.38 452.87h6.4l-3.2 4.4zM222.72 474.08h6.4l-3.2 4.4zM226.06 472.82h6.4l-3.2 4.4zM229.4 479.12h6.4l-3.2 4.4zM232.74 499.28h6.4l-3.2 4.4zM236.08 485h6.4l-3.2 4.4zM239.42 490.88h6.4l-3.2 4.4zM242.76 490.04h6.4l-3.2 4.4zM246.1 487.52h6.4l-3.2 4.4zM249.44 469.88h6.4l-3.2 4.4zM252.77 503.48h6.4l-3.2 4.4zM256.11 489.2h6.4l-3.2 4.4zM259.45 481.64h6.4l-3.2 4.4zM262.79 487.52h6.4l-3.2 4.4zM266.13 487.52h6.4l-3.2 4.4zM269.47 494.24h6.4l-3.2 4.4zM272.81 474.08h6.4l-3.2 4.4zM276.15 476.6h6.4l-3.2 4.4zM279.49 488.36h6.4l-3.2 4.4zM282.83 502.98h6.4l-3.2 4.4zM286.16 495.92h6.4l-3.2 4.4zM289.5 487.52h6.4l-3.2 4.4zM292.84 484.16h6.4l-3.2 4.4zM296.18 487.52h6.4l-3.2 4.4zM299.52 488.36h6.4l-3.2 4.4zM302.86 502.64h6.4l-3.2 4.4zM306.2 480.8h6.4l-3.2 4.4zM309.54 499.28h6.4l-3.2 4.4zM312.88 497.85h6.4l-3.2 4.4zM316.21 502.22h6.4l-3.2 4.4zM319.55 497.85h6.4l-3.2 4.4zM322.89 499.28h6.4l-3.2 4.4zM326.23 490.46h6.4l-3.2 4.4zM329.57 490.46h6.4l-3.2 4.4zM332.91 495.92h6.4l-3.2 4.4zM336.25 483.32h6.4l-3.2 4.4zM339.59 502.64h6.4l-3.2 4.4zM342.93 500.96h6.4l-3.2 4.4zM346.27 488.36h6.4l-3.2 4.4zM349.61 491.72h6.4l-3.2 4.4zM352.94 493.4h6.4l-3.2 4.4zM356.28 497.85h6.4l-3.2 4.4zM359.62 500.96h6.4l-3.2 4.4zM362.96 485h6.4l-3.2 4.4zM366.3 504.32h6.4l-3.2 4.4z"/>
<polyline fill="none" stroke="#4f78cc" stroke-width="1.05" points="35.6,505.96 38.94,506.38 42.28,505.96 45.62,505.12 48.96,502.6 52.3,505.96 55.63,502.6 58.97,495.04 62.31,502.6 65.65,499.24 68.99,469.84 72.33,468.58 75.67,469.84 79.01,502.6 82.35,503.86 85.69,500.08 89.02,478.24 92.36,467.32 95.7,463.09 99.04,452.82 102.38,452.82 105.72,501.76 109.06,469 112.4,463.09 115.74,453.67 119.07,453.67 122.41,454.53 125.75,464.8 129.09,442.54 132.43,484.12 135.77,481.6 139.11,495.46 142.45,502.6 145.79,483.28 149.13,486.64 152.47,501.34 155.8,499.24 159.14,489.16 162.48,490 165.82,488.32 169.16,496.3 172.5,470.68 175.84,484.12 179.18,496.3 182.52,486.64 185.85,475.72 189.19,500.08 192.53,497.56 195.87,490.84 199.21,445.97 202.55,455.81 205.89,453.67 209.23,499.24 212.57,474.04 215.91,501.76 219.25,490 222.58,443.4 225.92,462.57 229.26,452.82 232.6,457.1 235.94,494.2 239.28,500.08 242.62,475.72 245.96,473.62 249.3,469 252.63,451.1 255.97,486.64 259.31,504.28 262.65,490 265.99,490.84 269.33,487.48 272.67,489.16 276.01,460.52 279.35,458.38 282.69,501.76 286.03,494.2 289.36,501.76 292.7,467.32 296.04,460.52 299.38,464.8 302.72,467.32 306.06,487.48 309.4,485.38 312.74,494.2 316.08,498.65 319.41,500.08 322.75,495.88 326.09,504.28 329.43,483.28 332.77,495.04 336.11,501.76 339.45,476.56 342.79,503.44 346.13,503.78 349.47,486.64 352.81,494.2 356.14,490 359.48,497.14 362.82,502.26 366.16,481.6 369.5,499.24"/>
<path fill="none" stroke="#4a70cc" stroke-width="0.9" d="M32.35 505.96h6.5M35.6 502.71v6.5M33.26 503.62l4.68 4.68M33.26 508.3l4.68 -4.68M35.69 506.38h6.5M38.94 503.13v6.5M36.6 504.04l4.68 4.68M36.6 508.72l4.68 -4.68M39.03 505.96h6.5M42.28 502.71v6.5M39.94 503.62l4.68 4.68M39.94 508.3l4.68 -4.68M42.37 505.12h6.5M45.62 501.87v6.5M43.28 502.78l4.68 4.68M43.28 507.46l4.68 -4.68M45.71 502.6h6.5M48.96 499.35v6.5M46.62 500.26l4.68 4.68M46.62 504.94l4.68 -4.68M49.05 505.96h6.5M52.3 502.71v6.5M49.95 503.62l4.68 4.68M49.95 508.3l4.68 -4.68M52.38 502.6h6.5M55.63 499.35v6.5M53.29 500.26l4.68 4.68M53.29 504.94l4.68 -4.68M55.72 495.04h6.5M58.97 491.79v6.5M56.63 492.7l4.68 4.68M56.63 497.38l4.68 -4.68M59.06 502.6h6.5M62.31 499.35v6.5M59.97 500.26l4.68 4.68M59.97 504.94l4.68 -4.68M62.4 499.24h6.5M65.65 495.99v6.5M63.31 496.9l4.68 4.68M63.31 501.58l4.68 -4.68M65.74 469.84h6.5M68.99 466.59v6.5M66.65 467.5l4.68 4.68M66.65 472.18l4.68 -4.68M69.08 468.58h6.5M72.33 465.33v6.5M69.99 466.24l4.68 4.68M69.99 470.92l4.68 -4.68M72.42 469.84h6.5M75.67 466.59v6.5M73.33 467.5l4.68 4.68M73.33 472.18l4.68 -4.68M75.76 502.6h6.5M79.01 499.35v6.5M76.67 500.26l4.68 4.68M76.67 504.94l4.68 -4.68M79.1 503.86h6.5M82.35 500.61v6.5M80.01 501.52l4.68 4.68M80.01 506.2l4.68 -4.68M82.44 500.08h6.5M85.69 496.83v6.5M83.34 497.74l4.68 4.68M83.34 502.42l4.68 -4.68M85.77 478.24h6.5M89.02 474.99v6.5M86.68 475.9l4.68 4.68M86.68 480.58l4.68 -4.68M89.11 467.32h6.5M92.36 464.07v6.5M90.02 464.98l4.68 4.68M90.02 469.66l4.68 -4.68M92.45 463.09h6.5M95.7 459.84v6.5M93.36 460.75l4.68 4.68M93.36 465.43l4.68 -4.68M95.79 452.82h6.5M99.04 449.57v6.5M96.7 450.48l4.68 4.68M96.7 455.16l4.68 -4.68M99.13 452.82h6.5M102.38 449.57v6.5M100.04 450.48l4.68 4.68M100.04 455.16l4.68 -4.68M102.47 501.76h6.5M105.72 498.51v6.5M103.38 499.42l4.68 4.68M103.38 504.1l4.68 -4.68M105.81 469h6.5M109.06 465.75v6.5M106.72 466.66l4.68 4.68M106.72 471.34l4.68 -4.68M109.15 463.09h6.5M112.4 459.84v6.5M110.06 460.75l4.68 4.68M110.06 465.43l4.68 -4.68M112.49 453.67h6.5M115.74 450.42v6.5M113.4 451.33l4.68 4.68M113.4 456.01l4.68 -4.68M115.82 453.67h6.5M119.07 450.42v6.5M116.73 451.33l4.68 4.68M116.73 456.01l4.68 -4.68M119.16 454.53h6.5M122.41 451.28v6.5M120.07 452.19l4.68 4.68M120.07 456.87l4.68 -4.68M122.5 464.8h6.5M125.75 461.55v6.5M123.41 462.46l4.68 4.68M123.41 467.14l4.68 -4.68M125.84 442.54h6.5M129.09 439.29v6.5M126.75 440.2l4.68 4.68M126.75 444.88l4.68 -4.68M129.18 484.12h6.5M132.43 480.87v6.5M130.09 481.78l4.68 4.68M130.09 486.46l4.68 -4.68M132.52 481.6h6.5M135.77 478.35v6.5M133.43 479.26l4.68 4.68M133.43 483.94l4.68 -4.68M135.86 495.46h6.5M139.11 492.21v6.5M136.77 493.12l4.68 4.68M136.77 497.8l4.68 -4.68M139.2 502.6h6.5M142.45 499.35v6.5M140.11 500.26l4.68 4.68M140.11 504.94l4.68 -4.68M142.54 483.28h6.5M145.79 480.03v6.5M143.45 480.94l4.68 4.68M143.45 485.62l4.68 -4.68M145.88 486.64h6.5M149.13 483.39v6.5M146.79 484.3l4.68 4.68M146.79 488.98l4.68 -4.68M149.22 501.34h6.5M152.47 498.09v6.5M150.12 499l4.68 4.68M150.12 503.68l4.68 -4.68M152.55 499.24h6.5M155.8 495.99v6.5M153.46 496.9l4.68 4.68M153.46 501.58l4.68 -4.68M155.89 489.16h6.5M159.14 485.91v6.5M156.8 486.82l4.68 4.68M156.8 491.5l4.68 -4.68M159.23 490h6.5M162.48 486.75v6.5M160.14 487.66l4.68 4.68M160.14 492.34l4.68 -4.68M162.57 488.32h6.5M165.82 485.07v6.5M163.48 485.98l4.68 4.68M163.48 490.66l4.68 -4.68M165.91 496.3h6.5M169.16 493.05v6.5M166.82 493.96l4.68 4.68M166.82 498.64l4.68 -4.68M169.25 470.68h6.5M172.5 467.43v6.5M170.16 468.34l4.68 4.68M170.16 473.02l4.68 -4.68M172.59 484.12h6.5M175.84 480.87v6.5M173.5 481.78l4.68 4.68M173.5 486.46l4.68 -4.68M175.93 496.3h6.5M179.18 493.05v6.5M176.84 493.96l4.68 4.68M176.84 498.64l4.68 -4.68M179.27 486.64h6.5M182.52 483.39v6.5M180.18 484.3l4.68 4.68M180.18 488.98l4.68 -4.68M182.6 475.72h6.5M185.85 472.47v6.5M183.51 473.38l4.68 4.68M183.51 478.06l4.68 -4.68M185.94 500.08h6.5M189.19 496.83v6.5M186.85 497.74l4.68 4.68M186.85 502.42l4.68 -4.68M189.28 497.56h6.5M192.53 494.31v6.5M190.19 495.22l4.68 4.68M190.19 499.9l4.68 -4.68M192.62 490.84h6.5M195.87 487.59v6.5M193.53 488.5l4.68 4.68M193.53 493.18l4.68 -4.68M195.96 445.97h6.5M199.21 442.72v6.5M196.87 443.63l4.68 4.68M196.87 448.31l4.68 -4.68M199.3 455.81h6.5M202.55 452.56v6.5M200.21 453.47l4.68 4.68M200.21 458.15l4.68 -4.68M202.64 453.67h6.5M205.89 450.42v6.5M203.55 451.33l4.68 4.68M203.55 456.01l4.68 -4.68M205.98 499.24h6.5M209.23 495.99v6.5M206.89 496.9l4.68 4.68M206.89 501.58l4.68 -4.68M209.32 474.04h6.5M212.57 470.79v6.5M210.23 471.7l4.68 4.68M210.23 476.38l4.68 -4.68M212.66 501.76h6.5M215.91 498.51v6.5M213.57 499.42l4.68 4.68M213.57 504.1l4.68 -4.68M216 490h6.5M219.25 486.75v6.5M216.91 487.66l4.68 4.68M216.91 492.34l4.68 -4.68M219.33 443.4h6.5M222.58 440.15v6.5M220.24 441.06l4.68 4.68M220.24 445.74l4.68 -4.68M222.67 462.57h6.5M225.92 459.32v6.5M223.58 460.23l4.68 4.68M223.58 464.91l4.68 -4.68M226.01 452.82h6.5M229.26 449.57v6.5M226.92 450.48l4.68 4.68M226.92 455.16l4.68 -4.68M229.35 457.1h6.5M232.6 453.85v6.5M230.26 454.76l4.68 4.68M230.26 459.44l4.68 -4.68M232.69 494.2h6.5M235.94 490.95v6.5M233.6 491.86l4.68 4.68M233.6 496.54l4.68 -4.68M236.03 500.08h6.5M239.28 496.83v6.5M236.94 497.74l4.68 4.68M236.94 502.42l4.68 -4.68M239.37 475.72h6.5M242.62 472.47v6.5M240.28 473.38l4.68 4.68M240.28 478.06l4.68 -4.68M242.71 473.62h6.5M245.96 470.37v6.5M243.62 471.28l4.68 4.68M243.62 475.96l4.68 -4.68M246.05 469h6.5M249.3 465.75v6.5M246.96 466.66l4.68 4.68M246.96 471.34l4.68 -4.68M249.38 451.1h6.5M252.63 447.85v6.5M250.29 448.76l4.68 4.68M250.29 453.44l4.68 -4.68M252.72 486.64h6.5M255.97 483.39v6.5M253.63 484.3l4.68 4.68M253.63 488.98l4.68 -4.68M256.06 504.28h6.5M259.31 501.03v6.5M256.97 501.94l4.68 4.68M256.97 506.62l4.68 -4.68M259.4 490h6.5M262.65 486.75v6.5M260.31 487.66l4.68 4.68M260.31 492.34l4.68 -4.68M262.74 490.84h6.5M265.99 487.59v6.5M263.65 488.5l4.68 4.68M263.65 493.18l4.68 -4.68M266.08 487.48h6.5M269.33 484.23v6.5M266.99 485.14l4.68 4.68M266.99 489.82l4.68 -4.68M269.42 489.16h6.5M272.67 485.91v6.5M270.33 486.82l4.68 4.68M270.33 491.5l4.68 -4.68M272.76 460.52h6.5M276.01 457.27v6.5M273.67 458.18l4.68 4.68M273.67 462.86l4.68 -4.68M276.1 458.38h6.5M279.35 455.13v6.5M277.01 456.04l4.68 4.68M277.01 460.72l4.68 -4.68M279.44 501.76h6.5M282.69 498.51v6.5M280.35 499.42l4.68 4.68M280.35 504.1l4.68 -4.68M282.78 494.2h6.5M286.03 490.95v6.5M283.69 491.86l4.68 4.68M283.69 496.54l4.68 -4.68M286.11 501.76h6.5M289.36 498.51v6.5M287.02 499.42l4.68 4.68M287.02 504.1l4.68 -4.68M289.45 467.32h6.5M292.7 464.07v6.5M290.36 464.98l4.68 4.68M290.36 469.66l4.68 -4.68M292.79 460.52h6.5M296.04 457.27v6.5M293.7 458.18l4.68 4.68M293.7 462.86l4.68 -4.68M296.13 464.8h6.5M299.38 461.55v6.5M297.04 462.46l4.68 4.68M297.04 467.14l4.68 -4.68M299.47 467.32h6.5M302.72 464.07v6.5M300.38 464.98l4.68 4.68M300.38 469.66l4.68 -4.68M302.81 487.48h6.5M306.06 484.23v6.5M303.72 485.14l4.68 4.68M303.72 489.82l4.68 -4.68M306.15 485.38h6.5M309.4 482.13v6.5M307.06 483.04l4.68 4.68M307.06 487.72l4.68 -4.68M309.49 494.2h6.5M312.74 490.95v6.5M310.4 491.86l4.68 4.68M310.4 496.54l4.68 -4.68M312.83 498.65h6.5M316.08 495.4v6.5M313.74 496.31l4.68 4.68M313.74 500.99l4.68 -4.68M316.16 500.08h6.5M319.41 496.83v6.5M317.07 497.74l4.68 4.68M317.07 502.42l4.68 -4.68M319.5 495.88h6.5M322.75 492.63v6.5M320.41 493.54l4.68 4.68M320.41 498.22l4.68 -4.68M322.84 504.28h6.5M326.09 501.03v6.5M323.75 501.94l4.68 4.68M323.75 506.62l4.68 -4.68M326.18 483.28h6.5M329.43 480.03v6.5M327.09 480.94l4.68 4.68M327.09 485.62l4.68 -4.68M329.52 495.04h6.5M332.77 491.79v6.5M330.43 492.7l4.68 4.68M330.43 497.38l4.68 -4.68M332.86 501.76h6.5M336.11 498.51v6.5M333.77 499.42l4.68 4.68M333.77 504.1l4.68 -4.68M336.2 476.56h6.5M339.45 473.31v6.5M337.11 474.22l4.68 4.68M337.11 478.9l4.68 -4.68M339.54 503.44h6.5M342.79 500.19v6.5M340.45 501.1l4.68 4.68M340.45 505.78l4.68 -4.68M342.88 503.78h6.5M346.13 500.53v6.5M343.79 501.44l4.68 4.68M343.79 506.12l4.68 -4.68M346.22 486.64h6.5M349.47 483.39v6.5M347.13 484.3l4.68 4.68M347.13 488.98l4.68 -4.68M349.56 494.2h6.5M352.81 490.95v6.5M350.47 491.86l4.68 4.68M350.47 496.54l4.68 -4.68M352.89 490h6.5M356.14 486.75v6.5M353.8 487.66l4.68 4.68M353.8 492.34l4.68 -4.68M356.23 497.14h6.5M359.48 493.89v6.5M357.14 494.8l4.68 4.68M357.14 499.48l4.68 -4.68M359.57 502.26h6.5M362.82 499.01v6.5M360.48 499.92l4.68 4.68M360.48 504.6l4.68 -4.68M362.91 481.6h6.5M366.16 478.35v6.5M363.82 479.26l4.68 4.68M363.82 483.94l4.68 -4.68M366.25 499.24h6.5M369.5 495.99v6.5M367.16 496.9l4.68 4.68M367.16 501.58l4.68 -4.68"/>
<path fill="#0c2c9c" d="M34.55 505.96a1.05 1.05 0 1 0 2.1 0a1.05 1.05 0 1 0 -2.1 0M37.89 506.38a1.05 1.05 0 1 0 2.1 0a1.05 1.05 0 1 0 -2.1 0M41.23 505.96a1.05 1.05 0 1 0 2.1 0a1.05 1.05 0 1 0 -2.1 0M44.57 505.12a1.05 1.05 0 1 0 2.1 0a1.05 1.05 0 1 0 -2.1 0M47.91 502.6a1.05 1.05 0 1 0 2.1 0a1.05 1.05 0 1 0 -2.1 0M51.25 505.96a1.05 1.05 0 1 0 2.1 0a1.05 1.05 0 1 0 -2.1 0M54.58 502.6a1.05 1.05 0 1 0 2.1 0a1.05 1.05 0 1 0 -2.1 0M57.92 495.04a1.05 1.05 0 1 0 2.1 0a1.05 1.05 0 1 0 -2.1 0M61.26 502.6a1.05 1.05 0 1 0 2.1 0a1.05 1.05 0 1 0 -2.1 0M64.6 499.24a1.05 1.05 0 1 0 2.1 0a1.05 1.05 0 1 0 -2.1 0M67.94 469.84a1.05 1.05 0 1 0 2.1 0a1.05 1.05 0 1 0 -2.1 0M71.28 468.58a1.05 1.05 0 1 0 2.1 0a1.05 1.05 0 1 0 -2.1 0M74.62 469.84a1.05 1.05 0 1 0 2.1 0a1.05 1.05 0 1 0 -2.1 0M77.96 502.6a1.05 1.05 0 1 0 2.1 0a1.05 1.05 0 1 0 -2.1 0M81.3 503.86a1.05 1.05 0 1 0 2.1 0a1.05 1.05 0 1 0 -2.1 0M84.64 500.08a1.05 1.05 0 1 0 2.1 0a1.05 1.05 0 1 0 -2.1 0M87.97 478.24a1.05 1.05 0 1 0 2.1 0a1.05 1.05 0 1 0 -2.1 0M91.31 467.32a1.05 1.05 0 1 0 2.1 0a1.05 1.05 0 1 0 -2.1 0M94.65 463.09a1.05 1.05 0 1 0 2.1 0a1.05 1.05 0 1 0 -2.1 0M97.99 452.82a1.05 1.05 0 1 0 2.1 0a1.05 1.05 0 1 0 -2.1 0M101.33 452.82a1.05 1.05 0 1 0 2.1 0a1.05 1.05 0 1 0 -2.1 0M104.67 501.76a1.05 1.05 0 1 0 2.1 0a1.05 1.05 0 1 0 -2.1 0M108.01 469a1.05 1.05 0 1 0 2.1 0a1.05 1.05 0 1 0 -2.1 0M111.35 463.09a1.05 1.05 0 1 0 2.1 0a1.05 1.05 0 1 0 -2.1 0M114.69 453.67a1.05 1.05 0 1 0 2.1 0a1.05 1.05 0 1 0 -2.1 0M118.02 453.67a1.05 1.05 0 1 0 2.1 0a1.05 1.05 0 1 0 -2.1 0M121.36 454.53a1.05 1.05 0 1 0 2.1 0a1.05 1.05 0 1 0 -2.1 0M124.7 464.8a1.05 1.05 0 1 0 2.1 0a1.05 1.05 0 1 0 -2.1 0M128.04 442.54a1.05 1.05 0 1 0 2.1 0a1.05 1.05 0 1 0 -2.1 0M131.38 484.12a1.05 1.05 0 1 0 2.1 0a1.05 1.05 0 1 0 -2.1 0M134.72 481.6a1.05 1.05 0 1 0 2.1 0a1.05 1.05 0 1 0 -2.1 0M138.06 495.46a1.05 1.05 0 1 0 2.1 0a1.05 1.05 0 1 0 -2.1 0M141.4 502.6a1.05 1.05 0 1 0 2.1 0a1.05 1.05 0 1 0 -2.1 0M144.74 483.28a1.05 1.05 0 1 0 2.1 0a1.05 1.05 0 1 0 -2.1 0M148.08 486.64a1.05 1.05 0 1 0 2.1 0a1.05 1.05 0 1 0 -2.1 0M151.41 501.34a1.05 1.05 0 1 0 2.1 0a1.05 1.05 0 1 0 -2.1 0M154.75 499.24a1.05 1.05 0 1 0 2.1 0a1.05 1.05 0 1 0 -2.1 0M158.09 489.16a1.05 1.05 0 1 0 2.1 0a1.05 1.05 0 1 0 -2.1 0M161.43 490a1.05 1.05 0 1 0 2.1 0a1.05 1.05 0 1 0 -2.1 0M164.77 488.32a1.05 1.05 0 1 0 2.1 0a1.05 1.05 0 1 0 -2.1 0M168.11 496.3a1.05 1.05 0 1 0 2.1 0a1.05 1.05 0 1 0 -2.1 0M171.45 470.68a1.05 1.05 0 1 0 2.1 0a1.05 1.05 0 1 0 -2.1 0M174.79 484.12a1.05 1.05 0 1 0 2.1 0a1.05 1.05 0 1 0 -2.1 0M178.13 496.3a1.05 1.05 0 1 0 2.1 0a1.05 1.05 0 1 0 -2.1 0M181.47 486.64a1.05 1.05 0 1 0 2.1 0a1.05 1.05 0 1 0 -2.1 0M184.8 475.72a1.05 1.05 0 1 0 2.1 0a1.05 1.05 0 1 0 -2.1 0M188.14 500.08a1.05 1.05 0 1 0 2.1 0a1.05 1.05 0 1 0 -2.1 0M191.48 497.56a1.05 1.05 0 1 0 2.1 0a1.05 1.05 0 1 0 -2.1 0M194.82 490.84a1.05 1.05 0 1 0 2.1 0a1.05 1.05 0 1 0 -2.1 0M198.16 445.97a1.05 1.05 0 1 0 2.1 0a1.05 1.05 0 1 0 -2.1 0M201.5 455.81a1.05 1.05 0 1 0 2.1 0a1.05 1.05 0 1 0 -2.1 0M204.84 453.67a1.05 1.05 0 1 0 2.1 0a1.05 1.05 0 1 0 -2.1 0M208.18 499.24a1.05 1.05 0 1 0 2.1 0a1.05 1.05 0 1 0 -2.1 0M211.52 474.04a1.05 1.05 0 1 0 2.1 0a1.05 1.05 0 1 0 -2.1 0M214.86 501.76a1.05 1.05 0 1 0 2.1 0a1.05 1.05 0 1 0 -2.1 0M218.19 490a1.05 1.05 0 1 0 2.1 0a1.05 1.05 0 1 0 -2.1 0M221.53 443.4a1.05 1.05 0 1 0 2.1 0a1.05 1.05 0 1 0 -2.1 0M224.87 462.57a1.05 1.05 0 1 0 2.1 0a1.05 1.05 0 1 0 -2.1 0M228.21 452.82a1.05 1.05 0 1 0 2.1 0a1.05 1.05 0 1 0 -2.1 0M231.55 457.1a1.05 1.05 0 1 0 2.1 0a1.05 1.05 0 1 0 -2.1 0M234.89 494.2a1.05 1.05 0 1 0 2.1 0a1.05 1.05 0 1 0 -2.1 0M238.23 500.08a1.05 1.05 0 1 0 2.1 0a1.05 1.05 0 1 0 -2.1 0M241.57 475.72a1.05 1.05 0 1 0 2.1 0a1.05 1.05 0 1 0 -2.1 0M244.91 473.62a1.05 1.05 0 1 0 2.1 0a1.05 1.05 0 1 0 -2.1 0M248.25 469a1.05 1.05 0 1 0 2.1 0a1.05 1.05 0 1 0 -2.1 0M251.58 451.1a1.05 1.05 0 1 0 2.1 0a1.05 1.05 0 1 0 -2.1 0M254.92 486.64a1.05 1.05 0 1 0 2.1 0a1.05 1.05 0 1 0 -2.1 0M258.26 504.28a1.05 1.05 0 1 0 2.1 0a1.05 1.05 0 1 0 -2.1 0M261.6 490a1.05 1.05 0 1 0 2.1 0a1.05 1.05 0 1 0 -2.1 0M264.94 490.84a1.05 1.05 0 1 0 2.1 0a1.05 1.05 0 1 0 -2.1 0M268.28 487.48a1.05 1.05 0 1 0 2.1 0a1.05 1.05 0 1 0 -2.1 0M271.62 489.16a1.05 1.05 0 1 0 2.1 0a1.05 1.05 0 1 0 -2.1 0M274.96 460.52a1.05 1.05 0 1 0 2.1 0a1.05 1.05 0 1 0 -2.1 0M278.3 458.38a1.05 1.05 0 1 0 2.1 0a1.05 1.05 0 1 0 -2.1 0M281.64 501.76a1.05 1.05 0 1 0 2.1 0a1.05 1.05 0 1 0 -2.1 0M284.98 494.2a1.05 1.05 0 1 0 2.1 0a1.05 1.05 0 1 0 -2.1 0M288.31 501.76a1.05 1.05 0 1 0 2.1 0a1.05 1.05 0 1 0 -2.1 0M291.65 467.32a1.05 1.05 0 1 0 2.1 0a1.05 1.05 0 1 0 -2.1 0M294.99 460.52a1.05 1.05 0 1 0 2.1 0a1.05 1.05 0 1 0 -2.1 0M298.33 464.8a1.05 1.05 0 1 0 2.1 0a1.05 1.05 0 1 0 -2.1 0M301.67 467.32a1.05 1.05 0 1 0 2.1 0a1.05 1.05 0 1 0 -2.1 0M305.01 487.48a1.05 1.05 0 1 0 2.1 0a1.05 1.05 0 1 0 -2.1 0M308.35 485.38a1.05 1.05 0 1 0 2.1 0a1.05 1.05 0 1 0 -2.1 0M311.69 494.2a1.05 1.05 0 1 0 2.1 0a1.05 1.05 0 1 0 -2.1 0M315.03 498.65a1.05 1.05 0 1 0 2.1 0a1.05 1.05 0 1 0 -2.1 0M318.36 500.08a1.05 1.05 0 1 0 2.1 0a1.05 1.05 0 1 0 -2.1 0M321.7 495.88a1.05 1.05 0 1 0 2.1 0a1.05 1.05 0 1 0 -2.1 0M325.04 504.28a1.05 1.05 0 1 0 2.1 0a1.05 1.05 0 1 0 -2.1 0M328.38 483.28a1.05 1.05 0 1 0 2.1 0a1.05 1.05 0 1 0 -2.1 0M331.72 495.04a1.05 1.05 0 1 0 2.1 0a1.05 1.05 0 1 0 -2.1 0M335.06 501.76a1.05 1.05 0 1 0 2.1 0a1.05 1.05 0 1 0 -2.1 0M338.4 476.56a1.05 1.05 0 1 0 2.1 0a1.05 1.05 0 1 0 -2.1 0M341.74 503.44a1.05 1.05 0 1 0 2.1 0a1.05 1.05 0 1 0 -2.1 0M345.08 503.78a1.05 1.05 0 1 0 2.1 0a1.05 1.05 0 1 0 -2.1 0M348.42 486.64a1.05 1.05 0 1 0 2.1 0a1.05 1.05 0 1 0 -2.1 0M351.75 494.2a1.05 1.05 0 1 0 2.1 0a1.05 1.05 0 1 0 -2.1 0M355.09 490a1.05 1.05 0 1 0 2.1 0a1.05 1.05 0 1 0 -2.1 0M358.43 497.14a1.05 1.05 0 1 0 2.1 0a1.05 1.05 0 1 0 -2.1 0M361.77 502.26a1.05 1.05 0 1 0 2.1 0a1.05 1.05 0 1 0 -2.1 0M365.11 481.6a1.05 1.05 0 1 0 2.1 0a1.05 1.05 0 1 0 -2.1 0M368.45 499.24a1.05 1.05 0 1 0 2.1 0a1.05 1.05 0 1 0 -2.1 0"/>
<polyline fill="none" stroke="#7ad67a" stroke-width="0.9" stroke-opacity="0.9" stroke-dasharray="4.5 3" points="35.6,505.96 38.94,506.38 42.28,505.96 45.62,505.12 48.96,502.6 52.3,505.96 55.63,496.72 58.97,477.4 62.31,500.08 65.65,499.24 68.99,463.94 72.33,468.16 75.67,469 79.01,501.76 82.35,503.86 85.69,500.08 89.02,478.24 92.36,467.32 95.7,463.09 99.04,464.8 102.38,459.66 105.72,443.4 109.06,397.51 112.4,417.29 115.74,434.84 119.07,449.39 122.41,456.24 125.75,464.8 129.09,458.81 132.43,488.32 135.77,502.6 139.11,495.46 142.45,502.6 145.79,465.64 149.13,486.64 152.47,501.34 155.8,499.24 159.14,484.12 162.48,490 165.82,488.32 169.16,500.08 172.5,470.68 175.84,484.12 179.18,482.44 182.52,486.64 185.85,475.72 189.19,488.32 192.53,485.8 195.87,439.12 199.21,318.58 202.55,447.68 205.89,451.96 209.23,398.45 212.57,481.6 215.91,456.24 219.25,448.54 222.58,381.49 225.92,441.69 229.26,449.39 232.6,479.08 235.94,494.2 239.28,450.25 242.62,475.72 245.96,473.62 249.3,469 252.63,451.1 255.97,486.64 259.31,504.28 262.65,463.94 265.99,473.2 269.33,481.6 272.67,489.16 276.01,460.52 279.35,458.38 282.69,469.84 286.03,491.68 289.36,472.36 292.7,467.32 296.04,467.32 299.38,477.4 302.72,481.6 306.06,487.48 309.4,474.04 312.74,494.2 316.08,498.65 319.41,500.08 322.75,495.88 326.09,504.28 329.43,483.28 332.77,495.04 336.11,501.76 339.45,471.52 342.79,503.44 346.13,503.78 349.47,479.92 352.81,480.76 356.14,481.6 359.48,497.14 362.82,502.26 366.16,479.92 369.5,498.4"/>
</g>
<rect x="35.6" y="281.3" width="333.9" height="225.5" fill="none" stroke="#a0a0a0" stroke-width="1.15"/>
<path d="M68.5 506.8v-3.6M68.5 281.3v3.6M102.5 506.8v-3.6M102.5 281.3v3.6M135.5 506.8v-3.6M135.5 281.3v3.6M169.5 506.8v-3.6M169.5 281.3v3.6M202.5 506.8v-3.6M202.5 281.3v3.6M235.5 506.8v-3.6M235.5 281.3v3.6M269.5 506.8v-3.6M269.5 281.3v3.6M302.5 506.8v-3.6M302.5 281.3v3.6M336.5 506.8v-3.6M336.5 281.3v3.6M35.6 464.5h3.6M35.6 422.5h3.6M35.6 374.5h3.6M35.6 329.5h3.6M369.5 313.5h-3.6M369.5 345.5h-3.6M369.5 377.5h-3.6M369.5 410.5h-3.6M369.5 442.5h-3.6M369.5 474.5h-3.6" stroke="#858585" stroke-width="1.0" fill="none"/>
<text x="30.6" y="284.1" font-family="'Liberation Sans', Arial, Helvetica, sans-serif" font-size="9.4" font-weight="normal" text-anchor="end" fill="#505050" textLength="9.8" lengthAdjust="spacingAndGlyphs">25</text>
<text x="30.6" y="332" font-family="'Liberation Sans', Arial, Helvetica, sans-serif" font-size="9.4" font-weight="normal" text-anchor="end" fill="#505050" textLength="9.8" lengthAdjust="spacingAndGlyphs">20</text>
<text x="30.6" y="377.7" font-family="'Liberation Sans', Arial, Helvetica, sans-serif" font-size="9.4" font-weight="normal" text-anchor="end" fill="#505050" textLength="9.8" lengthAdjust="spacingAndGlyphs">15</text>
<text x="30.6" y="424.4" font-family="'Liberation Sans', Arial, Helvetica, sans-serif" font-size="9.4" font-weight="normal" text-anchor="end" fill="#505050" textLength="9.8" lengthAdjust="spacingAndGlyphs">10</text>
<text x="30.6" y="467.5" font-family="'Liberation Sans', Arial, Helvetica, sans-serif" font-size="9.4" font-weight="normal" text-anchor="end" fill="#505050" textLength="4.9" lengthAdjust="spacingAndGlyphs">5</text>
<text x="30.6" y="510.8" font-family="'Liberation Sans', Arial, Helvetica, sans-serif" font-size="9.4" font-weight="normal" text-anchor="end" fill="#505050" textLength="4.9" lengthAdjust="spacingAndGlyphs">0</text>
<text x="35.6" y="521.3" font-family="'Liberation Sans', Arial, Helvetica, sans-serif" font-size="9.4" font-weight="normal" text-anchor="middle" fill="#505050" textLength="4.9" lengthAdjust="spacingAndGlyphs">0</text>
<text x="68.99" y="521.3" font-family="'Liberation Sans', Arial, Helvetica, sans-serif" font-size="9.4" font-weight="normal" text-anchor="middle" fill="#505050" textLength="9.8" lengthAdjust="spacingAndGlyphs">10</text>
<text x="102.38" y="521.3" font-family="'Liberation Sans', Arial, Helvetica, sans-serif" font-size="9.4" font-weight="normal" text-anchor="middle" fill="#505050" textLength="9.8" lengthAdjust="spacingAndGlyphs">20</text>
<text x="135.77" y="521.3" font-family="'Liberation Sans', Arial, Helvetica, sans-serif" font-size="9.4" font-weight="normal" text-anchor="middle" fill="#505050" textLength="9.8" lengthAdjust="spacingAndGlyphs">30</text>
<text x="169.16" y="521.3" font-family="'Liberation Sans', Arial, Helvetica, sans-serif" font-size="9.4" font-weight="normal" text-anchor="middle" fill="#505050" textLength="9.8" lengthAdjust="spacingAndGlyphs">40</text>
<text x="202.55" y="521.3" font-family="'Liberation Sans', Arial, Helvetica, sans-serif" font-size="9.4" font-weight="normal" text-anchor="middle" fill="#505050" textLength="9.8" lengthAdjust="spacingAndGlyphs">50</text>
<text x="235.94" y="521.3" font-family="'Liberation Sans', Arial, Helvetica, sans-serif" font-size="9.4" font-weight="normal" text-anchor="middle" fill="#505050" textLength="9.8" lengthAdjust="spacingAndGlyphs">60</text>
<text x="269.33" y="521.3" font-family="'Liberation Sans', Arial, Helvetica, sans-serif" font-size="9.4" font-weight="normal" text-anchor="middle" fill="#505050" textLength="9.8" lengthAdjust="spacingAndGlyphs">70</text>
<text x="302.72" y="521.3" font-family="'Liberation Sans', Arial, Helvetica, sans-serif" font-size="9.4" font-weight="normal" text-anchor="middle" fill="#505050" textLength="9.8" lengthAdjust="spacingAndGlyphs">80</text>
<text x="336.11" y="521.3" font-family="'Liberation Sans', Arial, Helvetica, sans-serif" font-size="9.4" font-weight="normal" text-anchor="middle" fill="#505050" textLength="9.8" lengthAdjust="spacingAndGlyphs">90</text>
<text x="369.5" y="521.3" font-family="'Liberation Sans', Arial, Helvetica, sans-serif" font-size="9.4" font-weight="normal" text-anchor="middle" fill="#505050" textLength="14.7" lengthAdjust="spacingAndGlyphs">100</text>
<rect x="283.5" y="290.9" width="75.7" height="38.3" fill="#fff" stroke="#a8a8a8" stroke-width="1.2"/>
<line x1="285.9" y1="298.1" x2="314.7" y2="298.1" stroke="#7ad67a" stroke-width="1.1" stroke-dasharray="5 3.5"/>
<line x1="285.9" y1="310.2" x2="314.7" y2="310.2" stroke="#6f8fd6" stroke-width="1.2"/>
<path fill="none" stroke="#4a70cc" stroke-width="0.9" d="M297.4 310.2h6.4M300.6 307v6.4M298.3 307.9l4.61 4.61M298.3 312.5l4.61 -4.61"/>
<path fill="#0c2c9c" d="M299.3 310.2a1.3 1.3 0 1 0 2.6 0a1.3 1.3 0 1 0 -2.6 0"/>
<line x1="285.9" y1="322.4" x2="314.7" y2="322.4" stroke="#ff6a5a" stroke-width="1.1"/>
<path fill="#fff" stroke="#ff4a3a" stroke-width="1.1" d="M297.2 320.3h6.8l-3.4 5.4z"/>
<text x="317" y="301.5" font-family="'Liberation Sans', Arial, Helvetica, sans-serif" font-size="8.8" font-weight="normal" text-anchor="start" fill="#1a1a1a" textLength="13.6" lengthAdjust="spacingAndGlyphs" stroke="#1a1a1a" stroke-width="0.35">CKF</text>
<text x="317" y="313.6" font-family="'Liberation Sans', Arial, Helvetica, sans-serif" font-size="8.8" font-weight="normal" text-anchor="start" fill="#1a1a1a" textLength="18.2" lengthAdjust="spacingAndGlyphs" stroke="#1a1a1a" stroke-width="0.35">SCKF</text>
<text x="317" y="325.8" font-family="'Liberation Sans', Arial, Helvetica, sans-serif" font-size="8.8" font-weight="normal" text-anchor="start" fill="#1a1a1a" textLength="32.2" lengthAdjust="spacingAndGlyphs" stroke="#1a1a1a" stroke-width="0.35">GRU-CKF</text>
<text x="0" y="0" font-family="'Liberation Serif', 'Times New Roman', Times, serif" font-size="11.5" font-weight="normal" text-anchor="start" fill="#111" textLength="132.6" lengthAdjust="spacingAndGlyphs" stroke="#111" stroke-width="0.1" transform="translate(13.8,458.4) rotate(-90)">Y direction speed error (m/s)</text>
<text x="183.5" y="534" font-family="'Liberation Serif', 'Times New Roman', Times, serif" font-size="11.5" font-weight="normal" text-anchor="start" fill="#111" textLength="38.5" lengthAdjust="spacingAndGlyphs" stroke="#111" stroke-width="0.3">Time (s)</text>
<text x="190.1" y="546.3" font-family="'Liberation Serif', 'Times New Roman', Times, serif" font-size="8.4" font-weight="bold" text-anchor="start" fill="#111" textLength="10.9" lengthAdjust="spacingAndGlyphs">(d)</text>
</g>
</svg></body></html>
